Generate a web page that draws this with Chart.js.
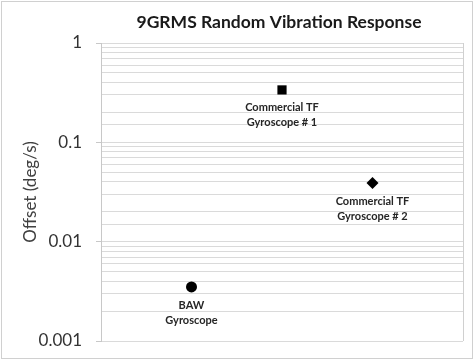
<!DOCTYPE html>
<html>
<head>
<meta charset="utf-8">
<script src="https://cdn.jsdelivr.net/npm/chart.js@4"></script>
<style>
  html, body { margin: 0; padding: 0; background: #fff; }
  #wrap { width: 474px; height: 360px; }
</style>
</head>
<body>
<div id="wrap"><canvas id="myChart" width="474" height="360"></canvas></div>
<script>
// data
const chartTitle = '9GRMS Random Vibration Response';
const axisTitle = 'Offset (deg/s)';
const devices = [['BAW', 'Gyroscope'], ['Commercial TF', 'Gyroscope # 1'], ['Commercial TF', 'Gyroscope # 2']];
const devicePos = [1, 2, 3];
const offsets = [0.0035, 0.337, 0.039];
const yTicks = [0.001, 0.01, 0.1, 1];

const markers = ['circle', 'rect', 'rectRot'];
const markerSize = [5.5, 6.5, 6];

const isDecade = v => Math.abs(Math.log10(v) - Math.round(Math.log10(v))) < 1e-6;

// frame, title and the point captions
const extras = {
  id: 'extras',
  beforeDraw(chart) {
    const c = chart.ctx;
    c.save();
    c.strokeStyle = '#d0d0d0';
    c.lineWidth = 1;
    c.strokeRect(1.5, 1.5, chart.width - 3, chart.height - 3);
    c.restore();
  },
  afterDraw(chart) {
    const c = chart.ctx;
    const area = chart.chartArea;
    c.save();
    // right edge of plot
    c.strokeStyle = '#d0d0d0';
    c.beginPath();
    c.moveTo(Math.round(area.right) + 0.5, area.top);
    c.lineTo(Math.round(area.right) + 0.5, area.bottom);
    c.stroke();

    c.fillStyle = '#1a1a1a';
    c.textAlign = 'center';
    c.textBaseline = 'middle';
    c.font = 'bold 17.5px Lato';
    c.fillText(chartTitle, 279, 22);

    const meta = chart.getDatasetMeta(0);
    c.font = 'bold 11px Lato';
    c.fillStyle = '#262626';
    meta.data.forEach((pt, i) => {
      devices[i].forEach((line, j) => {
        c.fillText(line, pt.x, pt.y + 18 + j * 15);
      });
    });
    c.restore();
  }
};

new Chart(document.getElementById('myChart'), {
  type: 'scatter',
  data: {
    datasets: [{
      data: offsets.map((v, i) => ({ x: devicePos[i], y: v })),
      pointStyle: markers,
      pointRadius: markerSize,
      pointHoverRadius: markerSize,
      backgroundColor: '#000',
      borderColor: '#000',
      borderWidth: 0
    }]
  },
  options: {
    responsive: false,
    animation: false,
    layout: { padding: { top: 43, right: 11, bottom: 19, left: 0 } },
    plugins: {
      legend: { display: false },
      tooltip: { enabled: false }
    },
    scales: {
      x: { type: 'linear', min: 0, max: 4, display: false },
      y: {
        type: 'logarithmic',
        min: yTicks[0],
        max: yTicks[yTicks.length - 1],
        afterFit(scale) {
          scale.width = 101;
          scale.paddingTop = 0;
          scale.paddingBottom = 0;
        },
        border: { display: true, color: '#c8c8c8' },
        grid: {
          color: '#dadada',
          tickLength: 5,
          tickColor: ctx => (ctx.tick && isDecade(ctx.tick.value)) ? '#c8c8c8' : 'rgba(0,0,0,0)'
        },
        ticks: {
          autoSkip: false,
          padding: 14,
          color: '#333',
          font: { family: 'Lato', size: 17 },
          callback: v => yTicks.find(t => Math.abs(t - v) / t < 1e-6) !== undefined ? String(v) : ''
        },
        title: {
          display: true,
          text: axisTitle,
          color: '#404040',
          font: { family: 'Lato', size: 17 },
          padding: { top: 20, bottom: 0 }
        }
      }
    }
  },
  plugins: [extras]
});
</script>
</body>
</html>
